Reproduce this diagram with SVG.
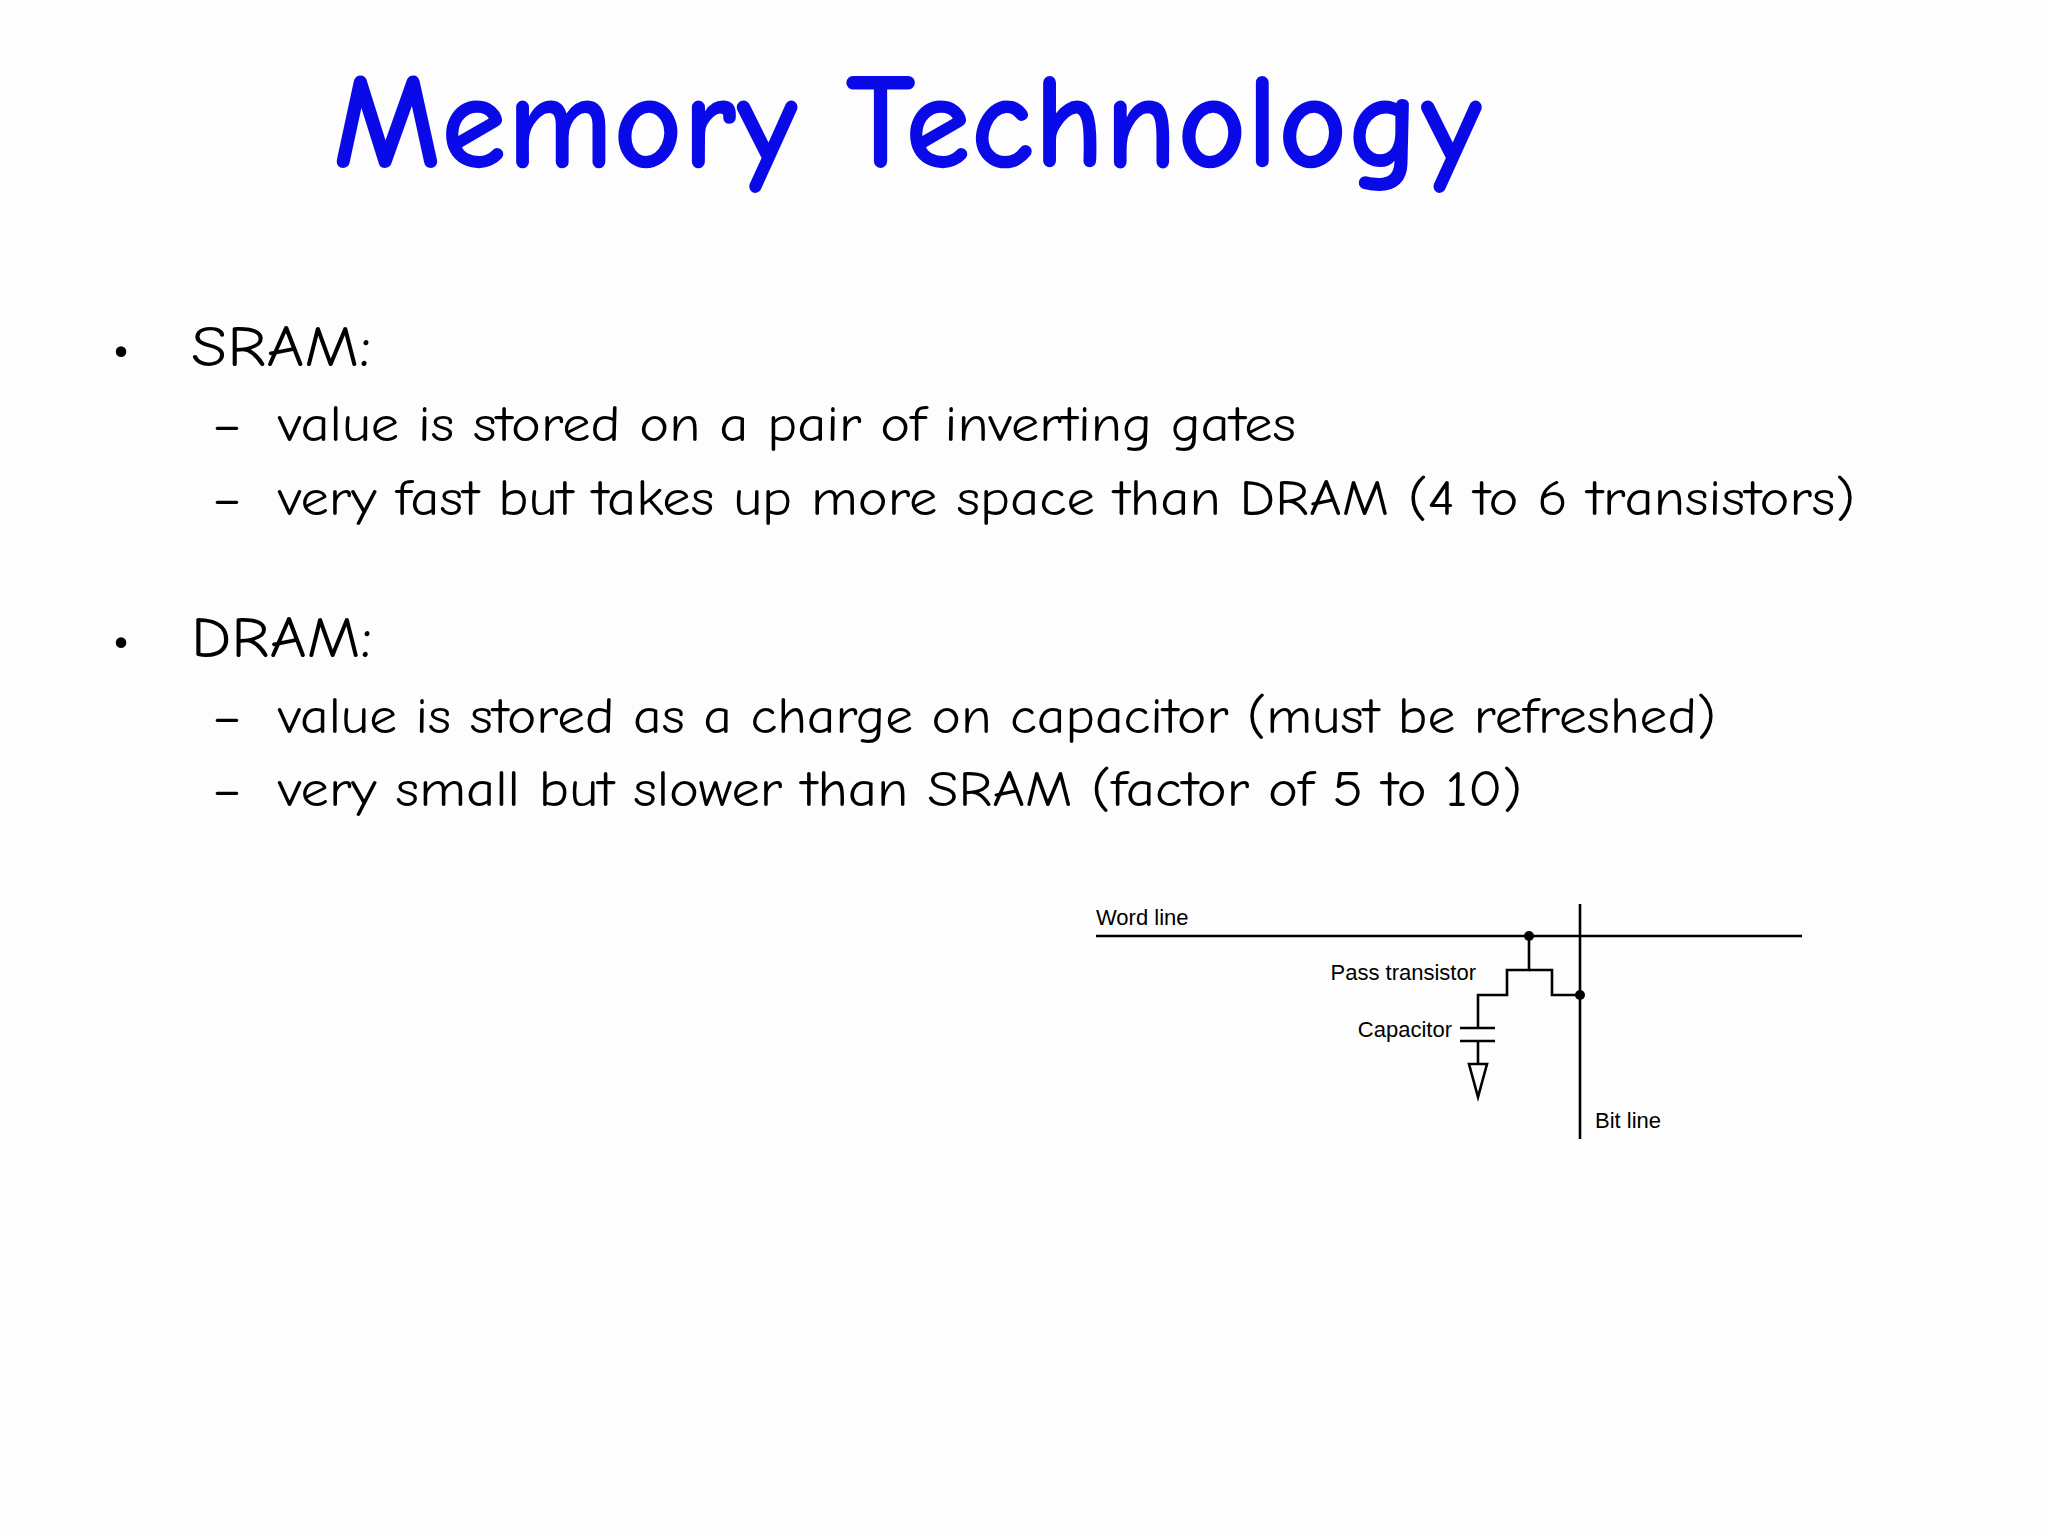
<svg xmlns="http://www.w3.org/2000/svg" width="2048" height="1536" viewBox="0 0 2048 1536">
<style>
.t{font-family:"Comic Neue","Noto Sans","DejaVu Sans",sans-serif;fill:#000}
.h{font-size:58px}.s{font-size:50px}
.c{font-family:"Liberation Sans",Arial,sans-serif;font-size:22px;fill:#000}
.w{stroke:#000;stroke-width:2.6;fill:none}
</style>
<rect width="2048" height="1536" fill="#fdfdfd"/>
<text id="title" x="333" y="167" font-family="Comic Neue, Noto Sans, DejaVu Sans, sans-serif" font-weight="bold" font-size="135" fill="#0a0ae8" textLength="1149" lengthAdjust="spacingAndGlyphs">Memory Technology</text>
<g id="sram">
<text class="t h" x="112" y="366">•</text>
<text class="t h" x="191" y="366" textLength="180" lengthAdjust="spacingAndGlyphs">SRAM:</text>
<text class="t s" x="212" y="441">–</text>
<text class="t s" x="278" y="441" textLength="1018" lengthAdjust="spacingAndGlyphs">value is stored  on a pair of inverting gates</text>
<text class="t s" x="212" y="515">–</text>
<text class="t s" x="278" y="515" textLength="1577" lengthAdjust="spacingAndGlyphs">very fast but takes up more space than DRAM (4 to 6 transistors)</text>
</g>
<g id="dram">
<text class="t h" x="112" y="657">•</text>
<text class="t h" x="191" y="657" textLength="181" lengthAdjust="spacingAndGlyphs">DRAM:</text>
<text class="t s" x="212" y="733">–</text>
<text class="t s" x="278" y="733" textLength="1438" lengthAdjust="spacingAndGlyphs">value is stored as a charge on capacitor (must be refreshed)</text>
<text class="t s" x="212" y="806">–</text>
<text class="t s" x="278" y="806" textLength="1244" lengthAdjust="spacingAndGlyphs">very small but slower than SRAM (factor of 5 to 10)</text>
</g>
<g id="circuit">
<line class="w" x1="1096" y1="936" x2="1802" y2="936"/>
<line class="w" x1="1580" y1="904" x2="1580" y2="1139"/>
<polyline class="w" points="1529,936 1529,970 1507,970 1507,995 1478,995 1478,1028"/>
<polyline class="w" points="1529,970 1552,970 1552,995 1580,995"/>
<line class="w" x1="1460" y1="1028" x2="1495" y2="1028"/>
<line class="w" x1="1460" y1="1041" x2="1495" y2="1041"/>
<line class="w" x1="1478" y1="1041" x2="1478" y2="1064"/>
<polygon class="w" points="1469,1064 1487,1064 1478,1097"/>
<circle cx="1529" cy="936" r="5"/>
<circle cx="1580" cy="995" r="5"/>
<text class="c" x="1096" y="925">Word line</text>
<text class="c" x="1476" y="980" text-anchor="end">Pass transistor</text>
<text class="c" x="1452" y="1037" text-anchor="end">Capacitor</text>
<text class="c" x="1595" y="1128">Bit line</text>
</g>
</svg>
